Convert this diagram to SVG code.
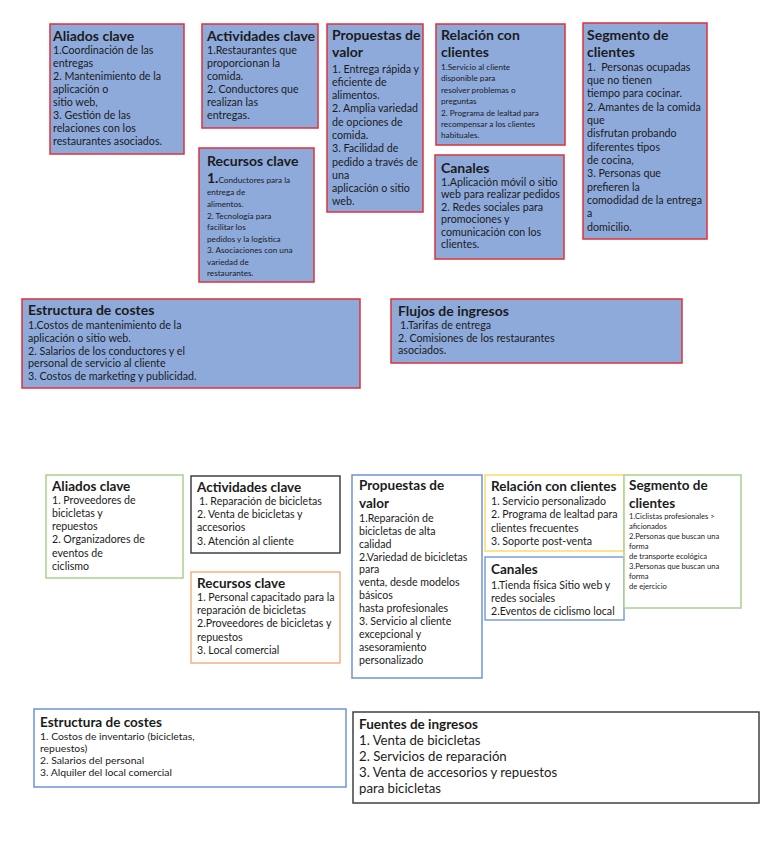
<svg xmlns="http://www.w3.org/2000/svg" width="768" height="866" viewBox="0 0 768 866">
<style>
text{font-family:Lato,"Liberation Sans",sans-serif;fill:#1b1b1b}
.top{fill:#8eaadb;stroke:#e0303a;stroke-width:1.5}
.t{font-weight:bold;font-size:14px}
.b{font-size:10.7px}
.s{font-size:8.2px}
.xs{font-size:7.6px}
.bt{font-weight:bold;font-size:13.5px}
.bb{font-size:10.6px}
.lg{font-size:13.2px}
.w{fill:#fff;stroke-width:1.5}
</style>
<rect width="768" height="866" fill="#fff"/>
<g id="connectors"/>
<g id="top-aliados">
<rect class="top" x="50" y="24" width="134" height="130"/>
<text class="t" x="53" y="41">Aliados clave</text>
<text class="b" x="53" y="54">1.Coordinación de las</text>
<text class="b" x="53" y="67">entregas</text>
<text class="b" x="53" y="80">2. Mantenimiento de la</text>
<text class="b" x="53" y="93">aplicación o</text>
<text class="b" x="53" y="106">sitio web,</text>
<text class="b" x="53" y="119">3. Gestión de las</text>
<text class="b" x="53" y="132">relaciones con los</text>
<text class="b" x="53" y="145">restaurantes asociados.</text>
</g>
<g id="top-actividades">
<rect class="top" x="202" y="24" width="116" height="104"/>
<text class="t" x="207" y="41">Actividades clave</text>
<text class="b" x="207" y="54">1.Restaurantes que</text>
<text class="b" x="207" y="67">proporcionan la</text>
<text class="b" x="207" y="80">comida.</text>
<text class="b" x="207" y="93">2. Conductores que</text>
<text class="b" x="207" y="106">realizan las</text>
<text class="b" x="207" y="119">entregas.</text>
</g>
<g id="top-recursos">
<rect class="top" x="199" y="148" width="115" height="134"/>
<text class="t" x="207" y="166">Recursos clave</text>
<text x="207" y="183"><tspan class="t">1.</tspan><tspan class="s">Conductores para la</tspan></text>
<text class="s" x="207" y="195">entrega de</text>
<text class="s" x="207" y="207">alimentos.</text>
<text class="s" x="207" y="218.5">2. Tecnología para</text>
<text class="s" x="207" y="230">facilitar los</text>
<text class="s" x="207" y="241.5">pedidos y la logística</text>
<text class="s" x="207" y="253">3. Asociaciones con una</text>
<text class="s" x="207" y="264.5">variedad de</text>
<text class="s" x="207" y="276">restaurantes.</text>
</g>
<g id="top-propuestas">
<rect class="top" x="327" y="24" width="96" height="188"/>
<text class="t" x="332" y="40">Propuestas de</text>
<text class="t" x="332" y="57">valor</text>
<text class="b" x="332" y="73">1. Entrega rápida y</text>
<text class="b" x="332" y="86">eficiente de</text>
<text class="b" x="332" y="99">alimentos.</text>
<text class="b" x="332" y="112">2. Amplia variedad</text>
<text class="b" x="332" y="126">de opciones de</text>
<text class="b" x="332" y="139">comida.</text>
<text class="b" x="332" y="152">3. Facilidad de</text>
<text class="b" x="332" y="166">pedido a través de</text>
<text class="b" x="332" y="179">una</text>
<text class="b" x="332" y="192">aplicación o sitio</text>
<text class="b" x="332" y="205">web.</text>
</g>
<g id="top-relacion">
<rect class="top" x="436" y="24" width="129" height="121"/>
<text class="t" x="441" y="40">Relación con</text>
<text class="t" x="441" y="57">clientes</text>
<text class="s" x="441" y="70">1.Servicio al cliente</text>
<text class="s" x="441" y="81">disponible para</text>
<text class="s" x="441" y="93">resolver problemas o</text>
<text class="s" x="441" y="104">preguntas</text>
<text class="s" x="441" y="116">2. Programa de lealtad para</text>
<text class="s" x="441" y="127">recompensar a los clientes</text>
<text class="s" x="441" y="138">habituales.</text>
</g>
<g id="top-canales">
<rect class="top" x="435" y="155" width="129" height="104"/>
<text class="t" x="441" y="173">Canales</text>
<text class="b" x="441" y="186">1.Aplicación móvil o sitio</text>
<text class="b" x="441" y="198">web para realizar pedidos</text>
<text class="b" x="441" y="211">2. Redes sociales para</text>
<text class="b" x="441" y="223">promociones y</text>
<text class="b" x="441" y="236">comunicación con los</text>
<text class="b" x="441" y="248">clientes.</text>
</g>
<g id="top-segmento">
<rect class="top" x="583" y="23" width="124" height="216"/>
<text class="t" x="587" y="40">Segmento de</text>
<text class="t" x="587" y="56.5">clientes</text>
<text class="b" x="587" y="70.5" xml:space="preserve">1.  Personas ocupadas</text>
<text class="b" x="587" y="83.5">que no tienen</text>
<text class="b" x="587" y="97">tiempo para cocinar.</text>
<text class="b" x="587" y="111">2. Amantes de la comida</text>
<text class="b" x="587" y="124">que</text>
<text class="b" x="587" y="137">disfrutan probando</text>
<text class="b" x="587" y="151">diferentes tipos</text>
<text class="b" x="587" y="164">de cocina,</text>
<text class="b" x="587" y="177">3. Personas que</text>
<text class="b" x="587" y="191">prefieren la</text>
<text class="b" x="587" y="204">comodidad de la entrega</text>
<text class="b" x="587" y="217">a</text>
<text class="b" x="587" y="231">domicilio.</text>
</g>
<g id="top-costes">
<rect class="top" x="22" y="299" width="338" height="89"/>
<text class="t" x="28" y="315">Estructura de costes</text>
<text class="b" x="28" y="329">1.Costos de mantenimiento de la</text>
<text class="b" x="28" y="342">aplicación o sitio web.</text>
<text class="b" x="28" y="355">2. Salarios de los conductores y el</text>
<text class="b" x="28" y="367">personal de servicio al cliente</text>
<text class="b" x="28" y="380">3. Costos de marketing y publicidad.</text>
</g>
<g id="top-ingresos">
<rect class="top" x="391" y="299" width="291" height="64"/>
<text class="t" x="398" y="316">Flujos de ingresos</text>
<text class="b" x="400" y="329">1.Tarifas de entrega</text>
<text class="b" x="398" y="342">2. Comisiones de los restaurantes</text>
<text class="b" x="398" y="354">asociados.</text>
</g>
<g id="bottom-aliados">
<rect class="w" x="46" y="475" width="137" height="103" stroke="#a9d18e"/>
<text class="bt" x="52" y="491">Aliados clave</text>
<text class="bb" x="52" y="504">1. Proveedores de</text>
<text class="bb" x="52" y="517">bicicletas y</text>
<text class="bb" x="52" y="530">repuestos</text>
<text class="bb" x="52" y="543">2. Organizadores de</text>
<text class="bb" x="52" y="557">eventos de</text>
<text class="bb" x="52" y="570">ciclismo</text>
</g>
<g id="bottom-actividades">
<rect class="w" x="191" y="476" width="149" height="77" stroke="#404040" stroke-width="2"/>
<text class="bt" x="197" y="492">Actividades clave</text>
<text class="bb" x="199" y="505">1. Reparación de bicicletas</text>
<text class="bb" x="197" y="518">2. Venta de bicicletas y</text>
<text class="bb" x="197" y="531">accesorios</text>
<text class="bb" x="197" y="545">3. Atención al cliente</text>
</g>
<g id="bottom-recursos">
<rect class="w" x="191" y="572" width="149" height="91" stroke="#f4b183"/>
<text class="bt" x="197" y="588">Recursos clave</text>
<text class="bb" x="197" y="601">1. Personal capacitado para la</text>
<text class="bb" x="197" y="614">reparación de bicicletas</text>
<text class="bb" x="197" y="627">2.Proveedores de bicicletas y</text>
<text class="bb" x="197" y="641">repuestos</text>
<text class="bb" x="197" y="654">3. Local comercial</text>
</g>
<g id="bottom-propuestas">
<rect class="w" x="352" y="475" width="130" height="203" stroke="#6f93d6"/>
<text class="bt" x="359" y="490">Propuestas de</text>
<text class="bt" x="359" y="508">valor</text>
<text class="bb" x="359" y="522">1.Reparación de</text>
<text class="bb" x="359" y="535">bicicletas de alta</text>
<text class="bb" x="359" y="548">calidad</text>
<text class="bb" x="359" y="561">2.Variedad de bicicletas</text>
<text class="bb" x="359" y="573">para</text>
<text class="bb" x="359" y="586">venta, desde modelos</text>
<text class="bb" x="359" y="599">básicos</text>
<text class="bb" x="359" y="612">hasta profesionales</text>
<text class="bb" x="359" y="625">3. Servicio al cliente</text>
<text class="bb" x="359" y="638">excepcional y</text>
<text class="bb" x="359" y="651">asesoramiento</text>
<text class="bb" x="359" y="664">personalizado</text>
</g>
<g id="bottom-relacion">
<rect class="w" x="485" y="475" width="139" height="76" stroke="#ffd966"/>
<text class="bt" x="491" y="491">Relación con clientes</text>
<text class="bb" x="491" y="505">1. Servicio personalizado</text>
<text class="bb" x="491" y="518">2. Programa de lealtad para</text>
<text class="bb" x="491" y="532">clientes frecuentes</text>
<text class="bb" x="491" y="545">3. Soporte post-venta</text>
</g>
<g id="bottom-canales">
<rect class="w" x="485" y="557" width="139" height="63" stroke="#7c9ed9"/>
<text class="bt" x="491" y="574">Canales</text>
<text class="bb" x="491" y="589">1.Tienda física Sitio web y</text>
<text class="bb" x="491" y="602">redes sociales</text>
<text class="bb" x="491" y="615">2.Eventos de ciclismo local</text>
</g>
<g id="bottom-segmento">
<rect class="w" x="624" y="475" width="117" height="133" stroke="#a9d18e"/>
<text class="bt" x="629" y="490">Segmento de</text>
<text class="bt" x="629" y="508">clientes</text>
<text class="xs" x="629" y="519">1.Ciclistas profesionales &gt;</text>
<text class="xs" x="629" y="529">aficionados</text>
<text class="xs" x="629" y="539">2.Personas que buscan una</text>
<text class="xs" x="629" y="549">forma</text>
<text class="xs" x="629" y="559">de transporte ecológica</text>
<text class="xs" x="629" y="569">3.Personas que buscan una</text>
<text class="xs" x="629" y="579">forma</text>
<text class="xs" x="629" y="589">de ejercicio</text>
</g>
<g id="bottom-costes">
<rect class="w" x="34" y="709" width="312" height="78" stroke="#6f93d6"/>
<text class="bt" x="40" y="727">Estructura de costes</text>
<text class="bb" x="40" y="740" style="font-size:10.4px">1. Costos de inventario (bicicletas,</text>
<text class="bb" x="40" y="752" style="font-size:10.4px">repuestos)</text>
<text class="bb" x="40" y="764" style="font-size:10.4px">2. Salarios del personal</text>
<text class="bb" x="40" y="776" style="font-size:10.4px">3. Alquiler del local comercial</text>
</g>
<g id="bottom-ingresos">
<rect class="w" x="353" y="712" width="406" height="91" stroke="#404040"/>
<text class="bt" x="359" y="729">Fuentes de ingresos</text>
<text class="lg" x="359" y="745">1. Venta de bicicletas</text>
<text class="lg" x="359" y="761">2. Servicios de reparación</text>
<text class="lg" x="359" y="777">3. Venta de accesorios y repuestos</text>
<text class="lg" x="359" y="793">para bicicletas</text>
</g>
</svg>
